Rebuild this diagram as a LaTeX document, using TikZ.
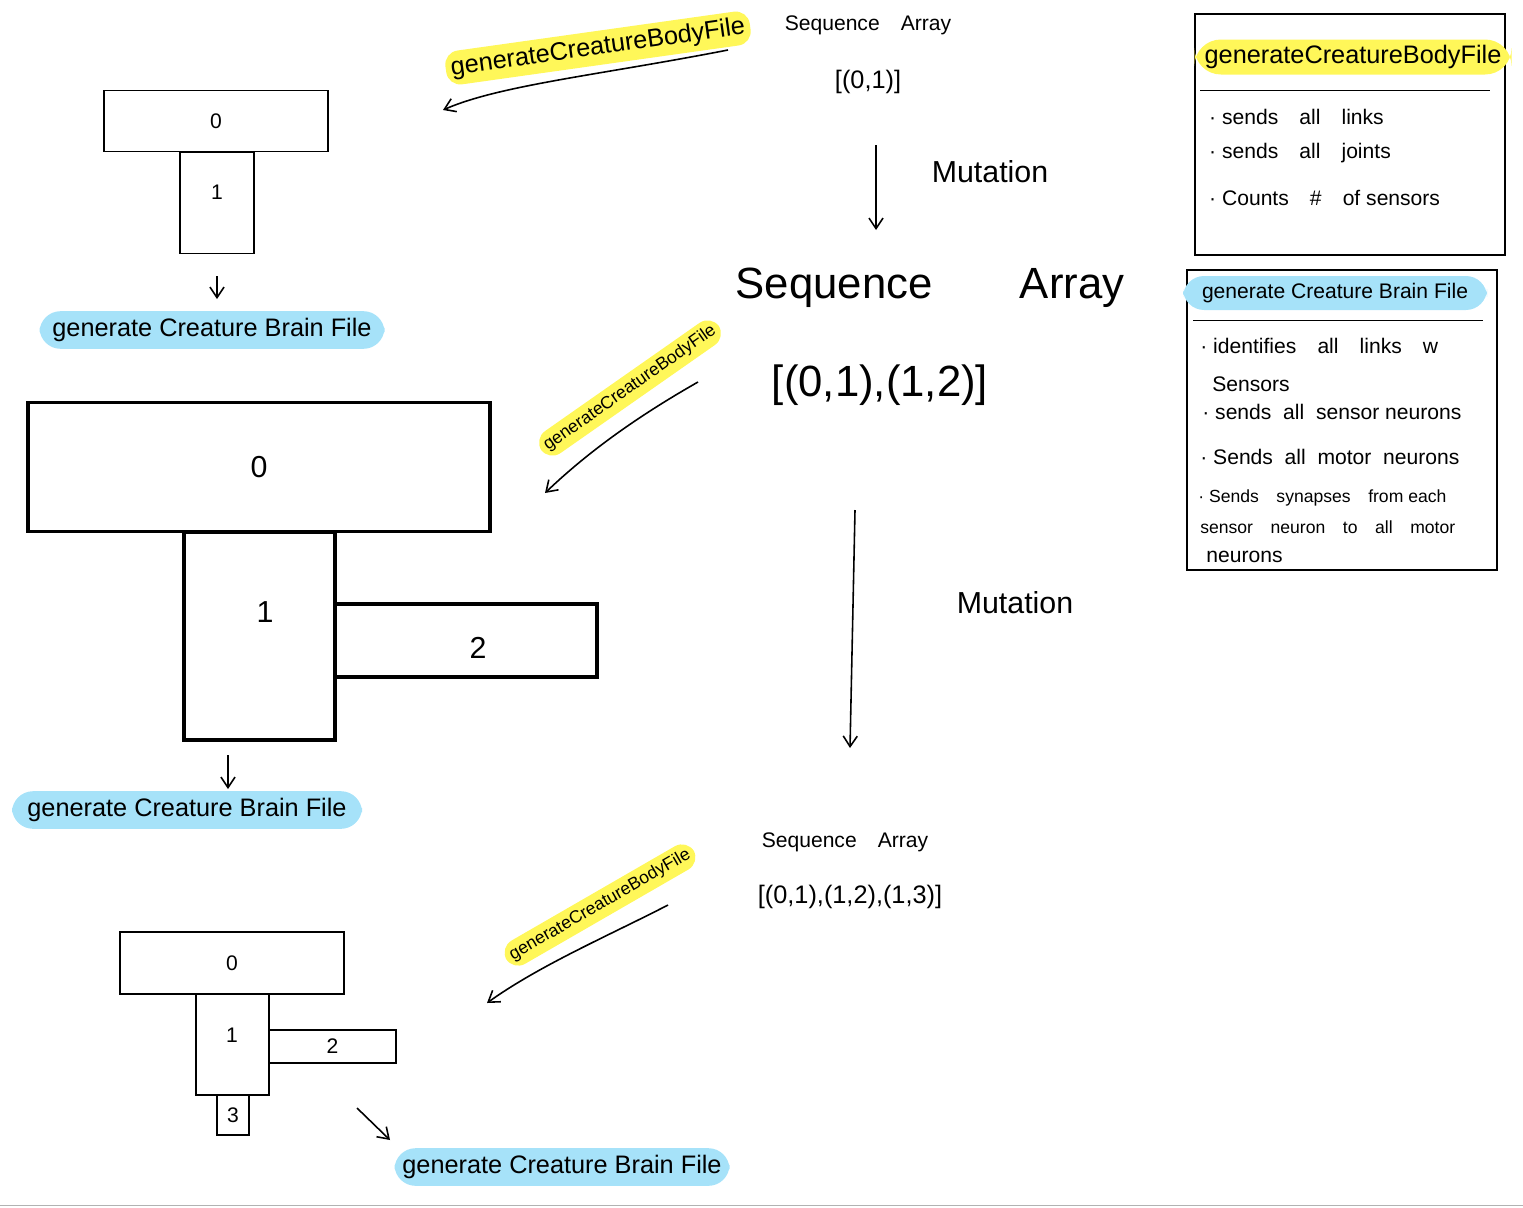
\documentclass[tikz,border=0pt]{standalone}
\usepackage{fontspec}
\setmainfont{Liberation Sans}
\usetikzlibrary{arrows.meta}
\begin{document}
\begin{tikzpicture}[x=0.02cm,y=-0.02cm,
  blk/.style={draw,line width=1pt,font=\large},
  thk/.style={draw,line width=2.2pt},
  arr/.style={-{Straight Barb[length=6pt,width=8pt]},line width=0.9pt},
  yl/.style={fill=yellow!65,rounded corners=8pt,inner sep=3pt},
  cy/.style={fill=cyan!35,rounded corners=12pt,inner sep=4pt,font=\Large},
  hw/.style={font=\large},
  bl/.style={anchor=west,inner sep=0pt}]
\useasboundingbox (0,0) rectangle (1523,1207);
\draw[gray!60] (0,1205) -- (1523,1205);
% top-left shape
\node[blk,minimum width=224*0.02cm,minimum height=61*0.02cm] (a0) at (216,121) {0};
\node[blk,minimum width=74*0.02cm,minimum height=101*0.02cm] (a1) at (217,203) {};
\node[font=\large] at (217,192) {1};
\coordinate (a1s) at (217,276); \coordinate (a1e) at (217,299);
\draw[arr] (a1s) -- (a1e);
\node[cy,minimum width=345*0.02cm] (ab) at (212,330) {generate Creature Brain File};
% top yellow label
\node[yl,rotate=8,font=\Large] (yb1) at (598,48) {generateCreatureBodyFile};
\coordinate (y1s) at (728,50); \coordinate (y1e) at (443,110);
\draw[arr] (y1s) .. controls (600,75) and (500,85) .. (y1e);
\node[hw] (sa1) at (868,25) {Sequence\quad Array};
\node[font=\Large] (arr1) at (868,82) {[(0,1)]};
\coordinate (m1s) at (876,145); \coordinate (m1e) at (876,230);
\draw[arr] (m1s) -- (m1e);
\node[font=\LARGE] (mu1) at (990,172) {Mutation};
\node[font=\Huge] (sa2) at (930,288) {Sequence\qquad Array};
\node[font=\Huge] (arr2) at (880,385) {[(0,1),(1,2)]};
% middle yellow
\node[yl,rotate=35] (yb2) at (630,388) {generateCreatureBodyFile};
\coordinate (y2s) at (698,382); \coordinate (y2e) at (545,493);
\draw[arr] (y2s) .. controls (640,415) and (590,450) .. (y2e);
% big shape
\node[thk,minimum width=462*0.02cm,minimum height=129*0.02cm,font=\LARGE] (b0) at (259,467) {0};
\node[thk,minimum width=151*0.02cm,minimum height=208*0.02cm,font=\LARGE] (b1) at (259.5,636) {};
\node[font=\LARGE] at (265,612) {1};
\node[thk,minimum width=262*0.02cm,minimum height=73*0.02cm,font=\LARGE] (b2) at (466,640.5) {};
\node[font=\LARGE] at (478,648) {2};
\coordinate (b1s) at (228,755); \coordinate (b1e) at (228,789);
\draw[arr] (b1s) -- (b1e);
\node[cy,minimum width=350*0.02cm] (bb) at (187,810) {generate Creature Brain File};
\coordinate (m2s) at (855,510); \coordinate (m2e) at (850,748);
\draw[arr] (m2s) -- (m2e);
\node[font=\LARGE] (mu2) at (1015,603) {Mutation};
\node[hw] (sa3) at (845,842) {Sequence\quad Array};
\node[font=\Large] (arr3) at (850,897) {[(0,1),(1,2),(1,3)]};
% bottom yellow
\node[yl,rotate=30] (yb3) at (600,905) {generateCreatureBodyFile};
\coordinate (y3s) at (668,905); \coordinate (y3e) at (487,1003);
\draw[arr] (y3s) .. controls (610,935) and (540,965) .. (y3e);
% bottom shape
\node[blk,minimum width=224*0.02cm,minimum height=62*0.02cm] (c0) at (232,963) {0};
\node[blk,minimum width=73*0.02cm,minimum height=101*0.02cm] (c1) at (232.5,1044.5) {};
\node[font=\large] at (232,1035) {1};
\node[blk,minimum width=127*0.02cm,minimum height=33*0.02cm] (c2) at (332.5,1046.5) {2};
\node[blk,minimum width=32*0.02cm,minimum height=40*0.02cm] (c3) at (233,1115) {3};
\coordinate (c3s) at (357,1108); \coordinate (c3e) at (390,1140);
\draw[arr] (c3s) -- (c3e);
\node[cy,minimum width=335*0.02cm] (cb) at (562,1167) {generate Creature Brain File};
% right box 1
\node[draw,line width=1pt,minimum width=310*0.02cm,minimum height=241*0.02cm] (r1) at (1350,134.5) {};
\node[yl,minimum width=317*0.02cm,minimum height=35*0.02cm,font=\Large,rounded corners=15pt] (r1h) at (1353,57) {generateCreatureBodyFile};
\draw (1200,90) -- (1490,90);
\node[anchor=west,hw] (r1a) at (1203,117) {· sends\quad all\quad links};
\node[anchor=west,hw] (r1b) at (1203,153) {· sends\quad all\quad joints};
\node[anchor=west,hw] (r1c) at (1203,198) {· Counts\quad \#\quad of sensors};
% right box 2
\node[draw,line width=1pt,minimum width=310*0.02cm,minimum height=300*0.02cm] (r2) at (1342,420) {};
\node[cy,minimum width=304*0.02cm,minimum height=34*0.02cm,font=\large] (r2h) at (1335,293) {generate Creature Brain File};
\draw (1193,320) -- (1483,320);
\node[bl,font=\large] (t1) at (1200,346) {· identifies\quad all\quad links\quad w};
\node[bl,font=\large] (t2) at (1212,384) {Sensors};
\node[bl,font=\large] (t3) at (1202,412) {· sends\ \ all\ \ sensor neurons};
\node[bl,font=\large] (t4) at (1200,457) {· Sends\ \ all\ \ motor\ \ neurons};
\node[bl] (t5) at (1198,498) {· Sends\quad synapses\quad from each};
\node[bl] (t6) at (1200,527) {sensor\quad neuron\quad to\quad all\quad motor};
\node[bl,font=\large] (t7) at (1206,557) {neurons};
\end{tikzpicture}
\end{document}
